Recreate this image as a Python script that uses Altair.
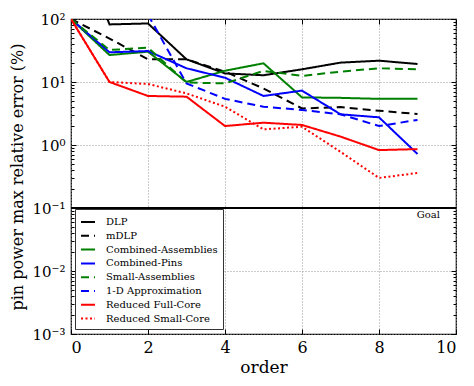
import altair as alt
import pandas as pd

# ---- data ----
orders = [0, 1, 2, 3, 4, 5, 6, 7, 8, 9]
dlp = [3000, 82, 85, 22.9, 13.7, 12.8, 15.9, 20.3, 21.8, 19.3]
mdlp = [100, 49, 22.9, 22.9, 14.6, 7.9, 3.8, 4.0, 3.5, 3.1]
comb_assem = [100, 26.8, 30.3, 10.0, 15.1, 19.8, 5.7, 5.6, 5.4, 5.4]
comb_pins = [100, 29.6, 31.0, 16.5, 11.7, 6.0, 7.3, 3.07, 2.75, 0.72]
small_assem = [100, 32.2, 35.0, 9.8, 9.5, 15.0, 12.5, 14.6, 16.5, 15.9]
oned_orders = [2, 3, 4, 5, 6, 7, 8, 9]
oned = [117, 9.5, 5.4, 4.05, 3.6, 3.07, 2.0, 2.5]
red_full = [100, 10, 6.0, 5.85, 2.0, 2.26, 2.08, 1.36, 0.83, 0.86]
red_small = [100, 10, 9.3, 6.6, 4.05, 1.77, 1.95, 0.78, 0.30, 0.36]

series_names = ["DLP", "mDLP", "Combined-Assemblies", "Combined-Pins",
                "Small-Assemblies", "1-D Approximation", "Reduced Full-Core",
                "Reduced Small-Core"]
series_colors = ["#000000", "#000000", "#008000", "#0000ff",
                 "#008000", "#0000ff", "#ff0000", "#ff0000"]
series_dash = [[1, 0], [8, 5], [1, 0], [1, 0], [8, 5], [8, 5], [1, 0], [2, 2.5]]

goal_value = [0.1]
goal_label = ["Goal"]
goal_label_x = [9.28]

x_ticks = [0, 2, 4, 6, 8, 10]
y_major = [0.001, 0.01, 0.1, 1, 10, 100]
y_minor = [k * 10.0 ** e for e in range(-3, 2) for k in range(2, 10)]

rows = []
for name, xs_, ys_ in [
    ("DLP", orders, dlp), ("mDLP", orders, mdlp),
    ("Combined-Assemblies", orders, comb_assem), ("Combined-Pins", orders, comb_pins),
    ("Small-Assemblies", orders, small_assem), ("1-D Approximation", oned_orders, oned),
    ("Reduced Full-Core", orders, red_full), ("Reduced Small-Core", orders, red_small),
]:
    for xv, yv in zip(xs_, ys_):
        rows.append({"order": xv, "value": yv, "series": name})
df = pd.DataFrame(rows)

FONT = "DejaVu Serif"
xs = alt.Scale(domain=[0, 10], nice=False, zero=False)
ys = alt.Scale(type="log", domain=[0.001, 100], nice=False)

label_expr = ("datum.value >= 50 ? '10²' : datum.value >= 5 ? '10¹' : "
              "datum.value >= 0.5 ? '10⁰' : datum.value >= 0.05 ? '10⁻¹' : "
              "datum.value >= 0.005 ? '10⁻²' : '10⁻³'")

legend = alt.Legend(
    title=None, orient="none", legendX=4, legendY=190,
    labelFont=FONT, labelFontSize=10, labelColor="black",
    symbolType="stroke", symbolStrokeWidth=2, symbolSize=196,
    labelOffset=10, rowPadding=0.8, padding=5,
    fillColor="white", strokeColor="#333333",
)

lines = alt.Chart(df).mark_line(strokeWidth=2, clip=True).encode(
    x=alt.X("order:Q", scale=xs, axis=alt.Axis(
        values=x_ticks, title="order", orient="bottom", grid=True,
        gridDash=[1, 2], gridColor="#999999", gridWidth=1,
        ticks=False, domain=False, labelPadding=5,
        labelFont=FONT, labelFontSize=16, labelColor="black",
        titleFont=FONT, titleFontSize=17, titleFontWeight="normal",
        titleColor="black", titlePadding=4)),
    y=alt.Y("value:Q", scale=ys, axis=alt.Axis(
        values=y_major, labelExpr=label_expr, orient="left", grid=True,
        gridDash=[1, 2], gridColor="#999999", gridWidth=1,
        ticks=False, domain=False, labelPadding=6,
        labelFont=FONT, labelFontSize=15, labelColor="black",
        title="pin power max relative error (%)",
        titleFont=FONT, titleFontSize=16, titleFontWeight="normal",
        titleColor="black", titlePadding=6)),
    color=alt.Color("series:N", scale=alt.Scale(domain=series_names, range=series_colors),
                    legend=legend),
    strokeDash=alt.StrokeDash("series:N", scale=alt.Scale(domain=series_names, range=series_dash),
                              legend=legend),
    order=alt.Order("order:Q"),
)

goal_df = pd.DataFrame({"y": goal_value, "label": goal_label, "x": goal_label_x})
goal_rule = alt.Chart(goal_df).mark_rule(color="black", strokeWidth=2).encode(
    y=alt.Y("y:Q", scale=ys, axis=None),
)
goal_text = alt.Chart(goal_df).mark_text(
    font=FONT, fontSize=10, color="black", baseline="top", align="center", dy=2
).encode(
    x=alt.X("x:Q", scale=xs, axis=None),
    y=alt.Y("y:Q", scale=ys, axis=None),
    text="label:N",
)


def tick_layer(orient_y, orient_x, yvals, size, xvals):
    enc = {}
    enc["y"] = alt.Y("value:Q", scale=ys, axis=alt.Axis(
        values=yvals, orient=orient_y, offset=-size, tickSize=size, ticks=True,
        tickColor="black", tickWidth=1, labels=False, domain=False, grid=False,
        title=None))
    if xvals is not None:
        enc["x"] = alt.X("order:Q", scale=xs, axis=alt.Axis(
            values=xvals, orient=orient_x, offset=-size, tickSize=size, ticks=True,
            tickColor="black", tickWidth=1, labels=False, domain=False, grid=False,
            title=None))
    else:
        enc["x"] = alt.X("order:Q", scale=xs, axis=None)
    return alt.Chart(df).mark_point(opacity=0).encode(**enc)


t1 = tick_layer("left", "bottom", y_major, 5, x_ticks)
t2 = tick_layer("right", "top", y_major, 5, x_ticks)
t3 = tick_layer("left", None, y_minor, 3, None)
t4 = tick_layer("right", None, y_minor, 3, None)

chart = alt.layer(lines, goal_rule, goal_text, t1, t2, t3, t4).resolve_axis(
    x="independent", y="independent"
).properties(
    width=385, height=315,
    padding={"left": 63, "top": 11, "right": 10, "bottom": 44},
    autosize=alt.AutoSizeParams(type="none"),
    background="white",
).configure_view(stroke="black", strokeWidth=1.2)

chart.save("out.html", embed_options={"renderer": "svg", "actions": False})
